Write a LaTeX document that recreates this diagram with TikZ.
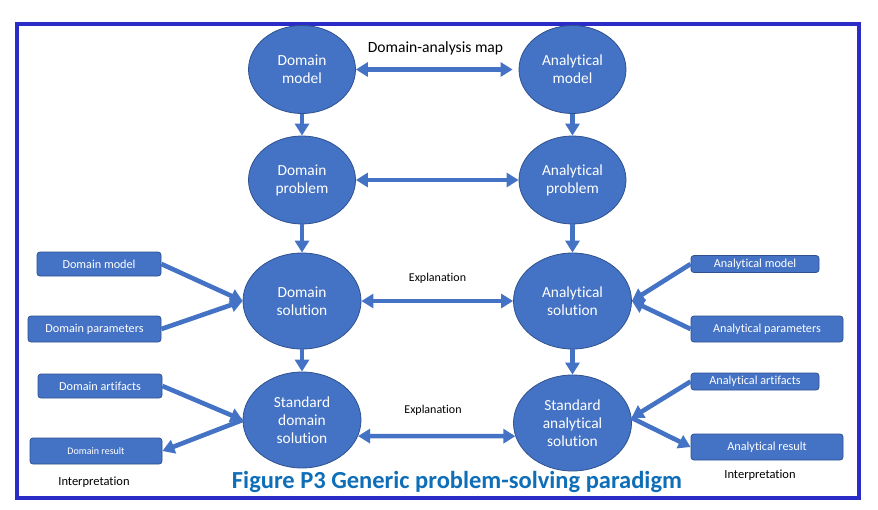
\documentclass[tikz,border=0pt]{standalone}
\usepackage{fontspec}
\setmainfont[Ligatures={NoCommon}]{Carlito}
\usetikzlibrary{shapes.geometric,arrows.meta}
\definecolor{fillblue}{HTML}{4472C4}
\definecolor{edgeblue}{HTML}{2F528F}
\definecolor{framecol}{HTML}{2B2BC8}
\definecolor{titlecol}{HTML}{0F6EB8}
\tikzset{
  oval/.style={ellipse,draw=edgeblue,line width=0.8pt,fill=fillblue,text=white,inner sep=0pt,
    minimum width=107pt,minimum height=88pt,align=center,font=\fontsize{15.4}{18}\selectfont},
  bigoval/.style={oval,minimum width=118pt,minimum height=96pt},
  sidebox/.style={rectangle,rounded corners=3pt,draw=edgeblue,line width=0.8pt,fill=fillblue,text=white,
    inner sep=0pt,font=\fontsize{12.2}{14}\selectfont},
  oneway/.style={draw=fillblue,line width=4.6pt,-{Triangle[width=14pt,length=12pt]}},
  twoway/.style={draw=fillblue,line width=4.6pt,{Triangle[width=14pt,length=12pt]}-{Triangle[width=14pt,length=12pt]}},
  plainlabel/.style={text=black,inner sep=0pt}
}
\begin{document}
\begin{tikzpicture}[x=1pt,y=-1pt]
\useasboundingbox (0,0) rectangle (878,509);
\fill[white] (0,0) rectangle (878,509);
\draw[framecol,line width=4pt] (17,24) rectangle (859,498);
% ovals
\node[oval] (dm) at (302,69.5) {Domain\\model};
\node[oval] (am) at (572.5,69.5) {Analytical\\model};
\node[oval] (dp) at (302,180) {Domain\\problem};
\node[oval] (ap) at (572.5,180) {Analytical\\problem};
\node[bigoval] (ds) at (302,301) {Domain\\solution};
\node[bigoval] (as) at (572.5,301) {Analytical\\solution};
\node[bigoval] (sd) at (302,420) {Standard\\domain\\solution};
\node[bigoval] (sa) at (572.5,423) {Standard\\analytical\\solution};
% side boxes
\node[sidebox,minimum width=124pt,minimum height=24pt] (bdm) at (99,264) {Domain model};
\node[sidebox,minimum width=133pt,minimum height=26pt] (bdp) at (94.5,329) {Domain parameters};
\node[sidebox,minimum width=124pt,minimum height=24pt] (bda) at (100,386) {Domain artifacts};
\node[sidebox,minimum width=132pt,minimum height=26pt,font=\fontsize{10}{12}\selectfont] (bdr) at (96,451) {Domain result};
\node[sidebox,minimum width=128pt,minimum height=17pt] (bam) at (755,264) {Analytical model};
\node[sidebox,minimum width=152pt,minimum height=26pt] (bap) at (767,329) {Analytical parameters};
\node[sidebox,minimum width=128pt,minimum height=17pt] (baa) at (755,381.5) {Analytical artifacts};
\node[sidebox,minimum width=152pt,minimum height=26pt] (bar) at (767,447) {Analytical result};
% vertical arrows
\draw[oneway] (dm) -- (dp);
\draw[oneway] (am) -- (ap);
\draw[oneway] (dp) -- (ds);
\draw[oneway] (ap) -- (as);
\draw[oneway] (ds) -- (sd);
\draw[oneway] (as) -- (sa);
% horizontal arrows
\draw[twoway,shorten >=6pt] (dm.east) -- (am.west);
\draw[twoway] (dp.east) -- (ap.west);
\draw[twoway] (ds.east) -- (as.west);
\draw[twoway] (sd.-16) -- (sa.193);
% side arrows
\draw[oneway] (bdm.east) -- (ds.west);
\draw[oneway] (bdp.east) -- (ds.west);
\draw[oneway] (bda.east) -- (sd.west);
\draw[oneway] (sd.west) -- (bdr.east);
\draw[oneway] (bam.west) -- (as.east);
\draw[oneway] (bap.west) -- (as.east);
\draw[oneway] (baa.west) -- (sa.5);
\draw[oneway] (sa.5) -- (bar.west);
% labels
\node[plainlabel,font=\fontsize{15.6}{18}\selectfont] (lmap) at (435.5,48) {Domain-analysis map};
\node[plainlabel,font=\fontsize{12}{14}\selectfont] (lex1) at (437.5,278.5) {Explanation};
\node[plainlabel,font=\fontsize{12}{14}\selectfont] (lex2) at (433,410.5) {Explanation};
\node[plainlabel,font=\fontsize{12.5}{15}\selectfont] (lin1) at (94,482) {Interpretation};
\node[plainlabel,font=\fontsize{12.5}{15}\selectfont] (lin2) at (760,475.5) {Interpretation};
\node[inner sep=0pt,text=titlecol,font=\fontsize{24.5}{28}\bfseries\selectfont] (ttl) at (457,481.5) {Figure P3 Generic problem-solving paradigm};
\end{tikzpicture}
\end{document}
